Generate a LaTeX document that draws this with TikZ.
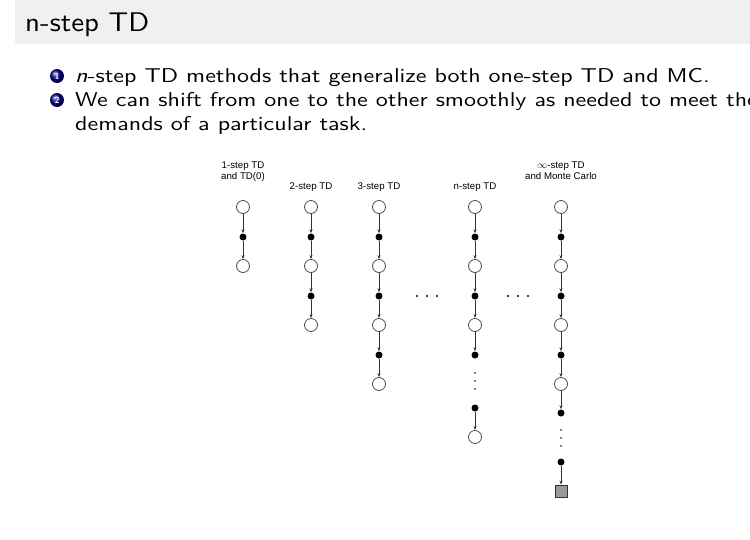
\documentclass[tikz,border=0pt]{standalone}
\usepackage{fontspec}
\setsansfont{lmsans10-regular.otf}[ItalicFont=lmsans10-oblique.otf,BoldFont=lmsans10-bold.otf]
\newfontfamily\helv{Liberation Sans}
\usetikzlibrary{arrows.meta}
\begin{document}
\begin{tikzpicture}[x=1pt,y=-1pt,
  st/.style={circle,draw=black!70,fill=white,line width=0.8pt,minimum size=13pt,inner sep=0pt},
  ac/.style={circle,fill=black,minimum size=7pt,inner sep=0pt},
  term/.style={rectangle,draw=black!80,fill=black!40,line width=0.8pt,minimum size=12pt,inner sep=0pt},
  ar/.style={-{Stealth[length=4pt,width=3pt]},line width=0.7pt,draw=black!80},
  lab/.style={font=\helv\fontsize{9.7}{10.5}\selectfont,align=center,anchor=base},
  body/.style={font=\sffamily\fontsize{20}{24}\selectfont,anchor=base west,inner sep=0pt,xscale=1.2},
  ball/.style={circle,inner sep=0pt,minimum size=14pt,ball color=blue!55!black,text=white,font=\sffamily\bfseries\fontsize{9}{9}\selectfont}]
\useasboundingbox (0,0) rectangle (750,539);
\fill[black!6] (15,0) rectangle (750,44);
\node[font=\sffamily\fontsize{27}{27}\selectfont,anchor=base west,inner sep=0pt,xscale=1.07] (title) at (25,31) {n-step TD};
\node[ball] (b1) at (57,76) {1};
\node[ball] (b2) at (57,100) {2};
\node[body] (t1) at (75,82) {\textit{n}-step TD methods that generalize both one-step TD and MC.};
\node[body] (t2) at (75,106) {We can shift from one to the other smoothly as needed to meet the};
\node[body] (t3) at (75,130) {demands of a particular task.};
% labels
\node[lab] (l1) at (243,179) {1-step TD\\and TD(0)};
\node[lab] (l2) at (311,189) {2-step TD};
\node[lab] (l3) at (379,189) {3-step TD};
\node[lab] (l4) at (475,189) {n-step TD};
\node[lab] (l5) at (561,179) {$\infty$-step TD\\and Monte Carlo};
% col1
\node[st] (a1) at (243,207) {};
\node[ac] (a2) at (243,237) {};
\node[st] (a3) at (243,266) {};
\draw[ar] (a1)--(a2); \draw[ar] (a2)--(a3);
% col2
\foreach \i/\y/\s in {1/207/st,2/237/ac,3/266/st,4/296/ac,5/325/st}
  \node[\s] (b\i) at (311,\y) {};
\foreach \i [evaluate=\i as \j using int(\i+1)] in {1,...,4} \draw[ar] (b\i)--(b\j);
% col3
\foreach \i/\y/\s in {1/207/st,2/237/ac,3/266/st,4/296/ac,5/325/st,6/355/ac,7/384/st}
  \node[\s] (c\i) at (379,\y) {};
\foreach \i [evaluate=\i as \j using int(\i+1)] in {1,...,6} \draw[ar] (c\i)--(c\j);
% col4
\foreach \i/\y/\s in {1/207/st,2/237/ac,3/266/st,4/296/ac,5/325/st,6/355/ac,7/408/ac,8/437/st}
  \node[\s] (d\i) at (475,\y) {};
\foreach \i [evaluate=\i as \j using int(\i+1)] in {1,...,5,7} \draw[ar] (d\i)--(d\j);
\foreach \y [count=\k] in {373,381,389} \fill (475,\y) circle (0.9);
% col5
\foreach \i/\y/\s in {1/207/st,2/237/ac,3/266/st,4/296/ac,5/325/st,6/355/ac,7/384/st,8/413/ac,9/462/ac}
  \node[\s] (e\i) at (561,\y) {};
\node[term] (e10) at (561,491) {};
\foreach \i [evaluate=\i as \j using int(\i+1)] in {1,...,7,9} \draw[ar] (e\i)--(e\j);
\foreach \y in {430,438,446} \fill (561,\y) circle (0.9);
% horizontal dots
\foreach \x in {417,427,437,508,518,528} \fill (\x,296) circle (1.1);
\end{tikzpicture}
\end{document}
